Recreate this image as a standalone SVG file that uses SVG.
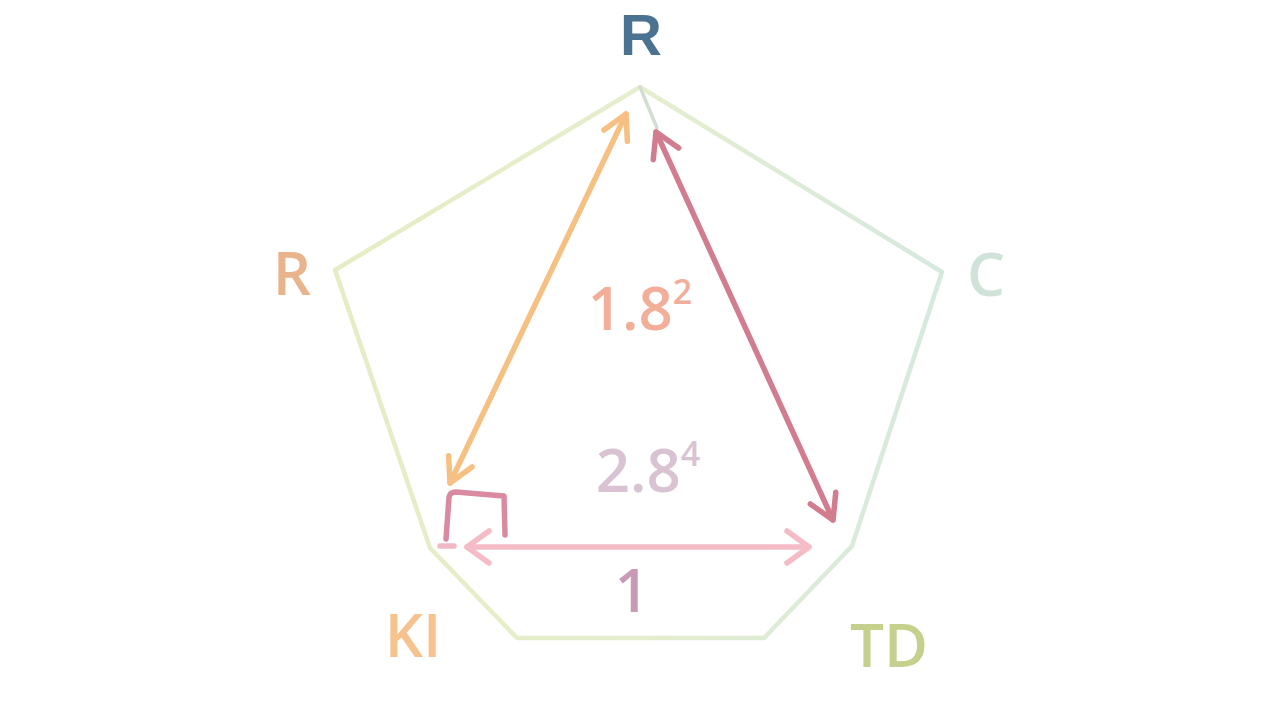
<svg xmlns="http://www.w3.org/2000/svg" width="1280" height="720" viewBox="0 0 1280 720">
<style>
text{font-family:"Open Sans","Liberation Sans",sans-serif;font-weight:600;font-size:60px;text-anchor:middle}
text.top{font-family:"Liberation Sans",sans-serif;font-weight:700;font-size:58px}
.arr{fill:none;stroke-width:5.5;stroke-linecap:round;stroke-linejoin:round}
</style>
<defs>
<linearGradient id="pg" x1="335" y1="0" x2="942" y2="0" gradientUnits="userSpaceOnUse">
<stop offset="0" stop-color="#e5edc5"/>
<stop offset="0.5" stop-color="#e5eecd"/>
<stop offset="1" stop-color="#d5e9df"/>
</linearGradient>
<marker id="mo" viewBox="-30 -20 40 40" refX="0" refY="0" markerWidth="40" markerHeight="40" markerUnits="userSpaceOnUse" orient="auto-start-reverse" overflow="visible">
<path d="M-24 -13 L0 0 L-24 13" fill="none" stroke="#f7c083" stroke-width="5.5" stroke-linecap="round" stroke-linejoin="round"/>
</marker>
<marker id="mr" viewBox="-30 -20 40 40" refX="0" refY="0" markerWidth="40" markerHeight="40" markerUnits="userSpaceOnUse" orient="auto-start-reverse" overflow="visible">
<path d="M-24 -14 L0 0 L-24 14" fill="none" stroke="#d27d8f" stroke-width="5.5" stroke-linecap="round" stroke-linejoin="round"/>
</marker>
<marker id="mp" viewBox="-30 -20 40 40" refX="0" refY="0" markerWidth="40" markerHeight="40" markerUnits="userSpaceOnUse" orient="auto-start-reverse" overflow="visible">
<path d="M-22 -16 L0 0 L-22 16" fill="none" stroke="#f5bcc7" stroke-width="5.5" stroke-linecap="round" stroke-linejoin="round"/>
</marker>
</defs>
<g id="shape">
<polygon points="640,87 942,272 852,546 764,638 517,638 430,548 335,270" fill="none" stroke="url(#pg)" stroke-width="4.5" stroke-linejoin="round"/>
<line x1="640" y1="87" x2="657" y2="128" stroke="#d3ded3" stroke-width="3.5" stroke-linecap="round"/>
</g>
<g id="connectors">
<line class="arr" x1="450" y1="483" x2="626" y2="114" stroke="#f7c083" marker-start="url(#mo)" marker-end="url(#mo)"/>
<line class="arr" x1="656" y1="132" x2="833" y2="520" stroke="#d27d8f" marker-start="url(#mr)" marker-end="url(#mr)"/>
<line class="arr" x1="467" y1="547" x2="809" y2="547" stroke="#f5bcc7" marker-start="url(#mp)" marker-end="url(#mp)"/>
<line class="arr" x1="440" y1="546" x2="454" y2="546" stroke="#f2b8c6"/>
<path class="arr" d="M446,539 L449,497 Q450,492 456,492 L504,496 L505,535" stroke="#d98aa0" stroke-width="6"/>
</g>
<g id="label-top"><text class="top" x="641" y="55" fill="#4b7391">R</text></g>
<g id="label-left"><text x="292" y="295" fill="#e9b48c">R</text></g>
<g id="label-right"><text x="986" y="296" fill="#cfe3d8">C</text></g>
<g id="label-ki"><text x="413" y="657" fill="#f6c28e">KI</text></g>
<g id="label-td"><text x="889" y="667" fill="#c5d08c">TD</text></g>
<g id="value-a"><text x="640" y="330" fill="#f2ae98">1.8<tspan font-size="34" dy="-26">2</tspan></text></g>
<g id="value-b"><text x="648" y="492" fill="#d9c3d3">2.8<tspan font-size="34" dy="-26">4</tspan></text></g>
<g id="value-c"><text x="632" y="612" fill="#c89ab4">1</text></g>
</svg>
